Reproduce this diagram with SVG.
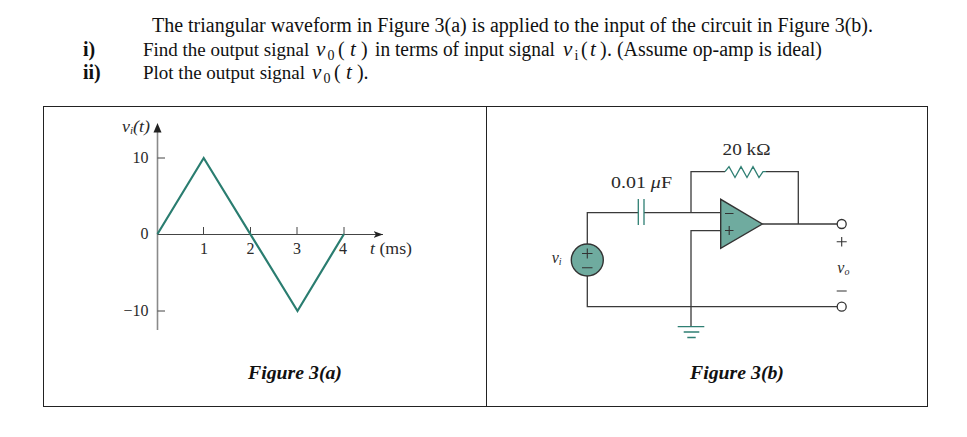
<svg xmlns="http://www.w3.org/2000/svg" width="967" height="437" viewBox="0 0 967 437">
<style>
text{font-family:"Liberation Serif",serif;fill:#111}
.q{font-size:20px}
.n{font-size:19px}
.b{font-weight:bold}
.mi{font-style:italic;font-size:21px}
.mn{font-size:14px}
.l{font-size:16px;fill:#2a2a2a}
.i{font-style:italic}
.sub{font-size:10px;font-style:italic}
.cap{font-size:19.8px;font-weight:bold;font-style:italic}
.w{fill:none;stroke:#3a3a3a;stroke-width:1.3}
.g{fill:none;stroke:#2f7f73;stroke-width:1.3}
.a{fill:none;stroke:#8a8a8a;stroke-width:1.6}
.t{fill:none;stroke:#444;stroke-width:1}
.k{fill:none;stroke:#333;stroke-width:1.1}
.gf{fill:#6fab9f;stroke:#333;stroke-width:1.4}
.o{fill:#fff;stroke:#333;stroke-width:1.3}
</style>
<defs><marker id="ah" markerWidth="10" markerHeight="8" refX="9.500" refY="4" orient="auto" markerUnits="userSpaceOnUse"><path d="M0 0.500L9.500 4L0 7.500L2.500 4Z" fill="#222"/></marker></defs>
<rect width="967" height="437" fill="#fff"/>
<g id="question">
<text class="q" x="152" y="32" textLength="721" lengthAdjust="spacingAndGlyphs">The triangular waveform in Figure 3(a) is applied to the input of the circuit in Figure 3(b).</text>
<text class="q b" x="83" y="55.500">i)</text>
<text class="n" x="143" y="55.500">Find the output signal</text>
<text class="q" y="55.500"><tspan class="mi" x="316">v</tspan><tspan class="mn" x="327.500" dy="4">0</tspan><tspan x="338" dy="-4">(</tspan><tspan class="mi" x="350">t</tspan><tspan x="361">)</tspan></text>
<text class="q" x="375" y="55.500" textLength="180" lengthAdjust="spacingAndGlyphs">in terms of input signal</text>
<text class="q" y="55.500"><tspan class="mi" x="563">v</tspan><tspan class="mn" x="574.500" dy="4">i</tspan><tspan x="581" dy="-4">(</tspan><tspan class="mi" x="590">t</tspan><tspan x="600">)</tspan></text>
<text class="q" x="607" y="55.500" textLength="215" lengthAdjust="spacingAndGlyphs">. (Assume op-amp is ideal)</text>
<text class="q b" x="83" y="78.500">ii)</text>
<text class="n" x="143" y="78.500">Plot the output signal</text>
<text class="q" y="78.500"><tspan class="mi" x="312">v</tspan><tspan class="mn" x="323.500" dy="4">0</tspan><tspan x="334" dy="-4">(</tspan><tspan class="mi" x="346">t</tspan><tspan x="357">)</tspan><tspan x="363.500">.</tspan></text>
</g>
<g id="frame" fill="none" stroke="#222" stroke-width="1">
<rect x="43.500" y="106.500" width="884" height="300"/>
<line x1="486.500" y1="106.500" x2="486.500" y2="406.500"/>
</g>
<g id="figure-a">
<line class="a" x1="157.500" y1="330" x2="157.500" y2="128"/>
<path d="M157.500 123L161.500 132.500L153.500 132.500Z" fill="#222"/>
<line class="t" x1="157.500" y1="158" x2="165" y2="158"/>
<line class="t" x1="157.500" y1="311" x2="165" y2="311"/>
<line class="t" x1="157.500" y1="234.500" x2="383" y2="234.500" marker-end="url(#ah)"/>
<path class="t" d="M203.500 227V234M250.500 227V234M297 227V234M344 227V234"/>
<path d="M157.500 234L203.700 158L297.500 311L344 234" fill="none" stroke="#2a7d70" stroke-width="2.2"/>
<text class="l i" x="122" y="132" textLength="28" lengthAdjust="spacingAndGlyphs">v<tspan class="sub" dy="2">i</tspan><tspan dy="-2">(t)</tspan></text>
<text class="l" x="148.500" y="162.500" text-anchor="end">10</text>
<text class="l" x="148.500" y="239" text-anchor="end">0</text>
<text class="l" x="148.500" y="316" text-anchor="end">−10</text>
<text class="l" x="204" y="254" text-anchor="middle">1</text>
<text class="l" x="250.500" y="254" text-anchor="middle">2</text>
<text class="l" x="297" y="254" text-anchor="middle">3</text>
<text class="l" x="343" y="254" text-anchor="middle">4</text>
<text class="l" x="370" y="254" textLength="42" lengthAdjust="spacingAndGlyphs"><tspan class="i">t</tspan> (ms)</text>
<text class="cap" x="248" y="379">Figure 3(a)</text>
</g>
<g id="connectors">
<path class="w" d="M587.300 244V212.700H638.300M644 212.700H720.700M691 212.700V171.700H725M766 171.700H798.300V224M762.300 224H837.200M720.700 230.700H691V326.700M587.300 276V306.700H837.200"/>
</g>
<g id="capacitor"><path class="g" d="M638.300 199V225M644 199V225"/><text class="l" x="611" y="188" textLength="61" lengthAdjust="spacingAndGlyphs">0.01 <tspan class="i">μ</tspan>F</text></g>
<g id="resistor"><path class="g" d="M725 171.700L729 166.700L735 177.500L741 166.700L747 177.500L753 166.700L759 177.500L763 171.700H766"/><text class="l" x="722.500" y="155" textLength="48" lengthAdjust="spacingAndGlyphs">20 kΩ</text></g>
<g id="opamp"><path class="gf" d="M720.700 199.300L720.700 248.300L762.300 224Z"/><path class="k" d="M725 213.500H733.500M725 230.500H733.500M729.200 226V235"/></g>
<g id="source"><circle class="gf" cx="587.300" cy="260" r="16"/><path class="k" d="M582 253.500H592.500M587.300 248.500V258.500M582 267.700H592.500"/><text class="l i" x="551.700" y="263">v<tspan class="sub" dy="2">i</tspan></text></g>
<g id="ground"><path class="g" d="M677.700 326.700H704.300M683.700 332H699.300M687.300 337.500H695.700"/></g>
<g id="output">
<circle class="o" cx="841.700" cy="224" r="4.500"/>
<circle class="o" cx="841.700" cy="306.700" r="4.500"/>
<path class="k" d="M836.700 241.700H846.700M841.700 237V246.500M836.700 291H846.700"/>
<text class="l i" x="837.300" y="272.700">v<tspan class="sub" dy="2">o</tspan></text>
</g>
<text class="cap" x="690" y="379">Figure 3(b)</text>
</svg>
